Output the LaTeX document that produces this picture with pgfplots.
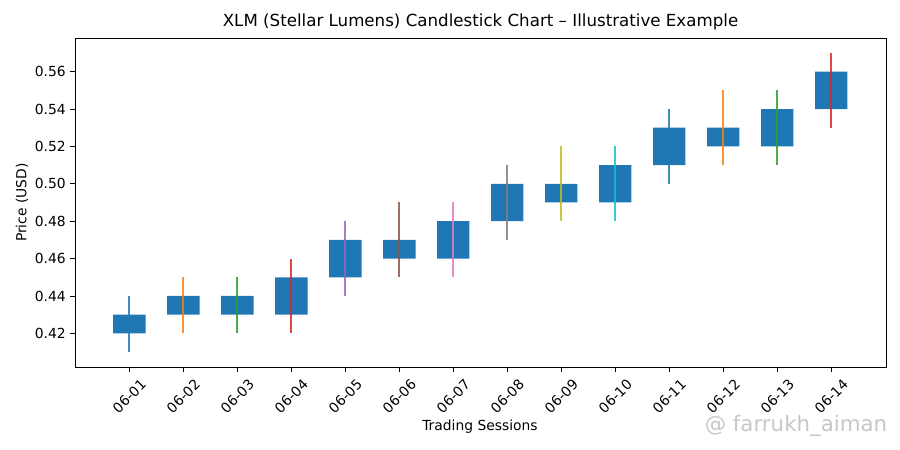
\documentclass[border=0pt]{standalone}
\usepackage{pgfplots}
\pgfplotsset{compat=1.18}
\usepackage{fontspec}
\setmainfont{DejaVu Sans}
\definecolor{mplA}{HTML}{1F77B4}
\definecolor{mplB}{HTML}{FF7F0E}
\definecolor{mplC}{HTML}{2CA02C}
\definecolor{mplD}{HTML}{D62728}
\definecolor{mplE}{HTML}{9467BD}
\definecolor{mplF}{HTML}{8C564B}
\definecolor{mplG}{HTML}{E377C2}
\definecolor{mplH}{HTML}{7F7F7F}
\definecolor{mplI}{HTML}{BCBD22}
\definecolor{mplJ}{HTML}{17BECF}
\pgfplotstableread{
x base body
0 0.42 0.01
1 0.43 0.01
2 0.43 0.01
3 0.43 0.02
4 0.45 0.02
5 0.46 0.01
6 0.46 0.02
7 0.48 0.02
8 0.49 0.01
9 0.49 0.02
10 0.51 0.02
11 0.52 0.01
12 0.52 0.02
13 0.54 0.02
}\bodies
\begin{document}
\begin{tikzpicture}
\useasboundingbox (0,0) rectangle (675pt,337.5pt);
\begin{axis}[
  at={(56.5pt,62.25pt)}, anchor=south west,
  scale only axis, width=608.25pt, height=246.75pt,
  xmin=-1.0, xmax=14.02, ymin=0.402, ymax=0.578,
  xtick={0,...,13},
  xticklabels={06-01,06-02,06-03,06-04,06-05,06-06,06-07,06-08,06-09,06-10,06-11,06-12,06-13,06-14},
  ytick={0.42,0.44,...,0.57},
  yticklabel style={/pgf/number format/.cd, fixed, fixed zerofill, precision=2, assume math mode=true},
  /pgf/number format/assume math mode=true,
  tick label style={font=\fontsize{10.4}{12}\selectfont},
  xticklabel style={rotate=45, anchor=center, xshift=-13pt, yshift=-13pt},
  xtick pos=bottom, ytick pos=left,
  tick align=outside, major tick length=3.65pt,
  every tick/.style={black, line width=0.6pt},
  axis line style={line width=0.6pt},
  scaled y ticks=false,
  ybar stacked, bar width=0.6,
  clip=true,
]
\addplot[draw=none, fill=none] table[x=x, y=base] {\bodies};
\addplot[draw=none, fill=mplA] table[x=x, y=body] {\bodies};
\end{axis}
\begin{axis}[
  at={(56.5pt,62.25pt)}, anchor=south west,
  scale only axis, width=608.25pt, height=246.75pt,
  xmin=-1.0, xmax=14.02, ymin=0.402, ymax=0.578,
  axis lines=none, xtick=\empty, ytick=\empty,
]
\addplot[color=mplA, line width=1.5pt, opacity=0.85, no marks] coordinates {(0,0.41) (0,0.44)};
\addplot[color=mplB, line width=1.5pt, opacity=0.85, no marks] coordinates {(1,0.42) (1,0.45)};
\addplot[color=mplC, line width=1.5pt, opacity=0.85, no marks] coordinates {(2,0.42) (2,0.45)};
\addplot[color=mplD, line width=1.5pt, opacity=0.85, no marks] coordinates {(3,0.42) (3,0.46)};
\addplot[color=mplE, line width=1.5pt, opacity=0.85, no marks] coordinates {(4,0.44) (4,0.48)};
\addplot[color=mplF, line width=1.5pt, opacity=0.85, no marks] coordinates {(5,0.45) (5,0.49)};
\addplot[color=mplG, line width=1.5pt, opacity=0.85, no marks] coordinates {(6,0.45) (6,0.49)};
\addplot[color=mplH, line width=1.5pt, opacity=0.85, no marks] coordinates {(7,0.47) (7,0.51)};
\addplot[color=mplI, line width=1.5pt, opacity=0.85, no marks] coordinates {(8,0.48) (8,0.52)};
\addplot[color=mplJ, line width=1.5pt, opacity=0.85, no marks] coordinates {(9,0.48) (9,0.52)};
\addplot[color=mplA, line width=1.5pt, opacity=0.85, no marks] coordinates {(10,0.50) (10,0.54)};
\addplot[color=mplB, line width=1.5pt, opacity=0.85, no marks] coordinates {(11,0.51) (11,0.55)};
\addplot[color=mplC, line width=1.5pt, opacity=0.85, no marks] coordinates {(12,0.51) (12,0.55)};
\addplot[color=mplD, line width=1.5pt, opacity=0.85, no marks] coordinates {(13,0.53) (13,0.57)};
\end{axis}
\node[font=\fontsize{12.5}{14}\selectfont] at (360.4pt,321pt) {XLM (Stellar Lumens) Candlestick Chart – Illustrative Example};
\node[font=\fontsize{10.4}{12}\selectfont, rotate=90] at (16.5pt,185.6pt) {Price (USD)};
\node[font=\fontsize{10.4}{12}\selectfont] at (360pt,17.25pt) {Trading Sessions};
\node[font=\fontsize{16}{18}\selectfont, text=black!22] at (597pt,18pt) {@ farrukh\_aiman};
\end{tikzpicture}
\end{document}
